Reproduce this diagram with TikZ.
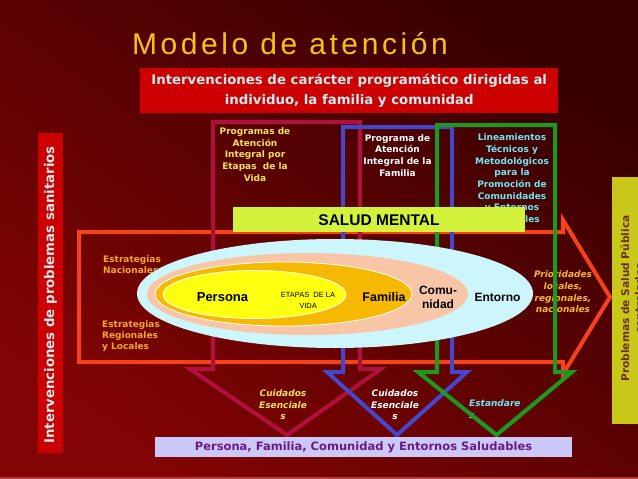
\documentclass[tikz,border=0pt]{standalone}
\usepackage{fontspec}
\setmainfont{Liberation Sans}
\newfontfamily\titlefont{Liberation Sans}[LetterSpace=12]
\newfontfamily\dvs{DejaVu Sans}[BoldFont={DejaVu Sans Bold},ItalicFont={DejaVu Sans Oblique},BoldItalicFont={DejaVu Sans Bold Oblique}]
\definecolor{bgtop}{HTML}{380000}
\definecolor{bgbot}{HTML}{820404}
\definecolor{titleyellow}{HTML}{F5C21C}
\definecolor{boxred}{HTML}{CC0000}
\definecolor{paletext}{HTML}{C6ECF0}
\definecolor{olivebox}{HTML}{C9C71A}
\definecolor{olivetext}{HTML}{6A3414}
\definecolor{arroworange}{HTML}{F5421A}
\definecolor{crimsonline}{HTML}{B0103C}
\definecolor{blueline}{HTML}{4646CC}
\definecolor{greenline}{HTML}{1C9A1C}
\definecolor{limebox}{HTML}{D2F23C}
\definecolor{ecyan}{HTML}{CCF6FB}
\definecolor{epeach}{HTML}{F8C6A6}
\definecolor{eorange}{HTML}{F7B800}
\definecolor{eyellow}{HTML}{FFFF10}
\definecolor{lightyellow}{HTML}{F2E25A}
\definecolor{cyantext}{HTML}{6EE6F4}
\definecolor{orangetext}{HTML}{F2A62A}
\definecolor{orangeital}{HTML}{F5B82A}
\definecolor{lavender}{HTML}{CDC8FA}
\definecolor{purpletext}{HTML}{6A1A80}
\begin{document}
\begin{tikzpicture}[x=1pt,y=-1pt,
  shapeline/.style={line width=4pt,line join=miter,miter limit=20},
  smalltxt/.style={font=\dvs\bfseries\fontsize{9}{11.7}\selectfont,align=center,inner sep=0pt,anchor=north},
  italtxt/.style={font=\dvs\bfseries\itshape\fontsize{9}{11.7}\selectfont,align=center,inner sep=0pt,anchor=north},
  sidetxt/.style={font=\dvs\bfseries\fontsize{9}{11}\selectfont,align=left,inner sep=0pt,anchor=north west,text=orangetext},
  elabel/.style={font=\bfseries\fontsize{13}{14.5}\selectfont,inner sep=0pt,align=center,text=black}
]
\useasboundingbox (0,0) rectangle (638,479);
\shade[top color=bgtop,bottom color=bgbot,shading angle=-35] (0,0) rectangle (638,479);
\draw[draw={rgb,255:red,176;green,64;blue,64},line width=1.2pt] (0,478) -- (638,478);

% title
\node[font=\titlefont\fontsize{30}{32}\selectfont,text=titleyellow,inner sep=0pt,anchor=base] (title) at (290,54) {Modelo de atención};

% top red box
\node[fill=boxred,minimum width=418pt,minimum height=45pt,inner sep=0pt,anchor=north west] (topbox) at (140,68) {};
\node[font=\dvs\bfseries\fontsize{13.3}{20}\selectfont,text=paletext,align=center,inner sep=0pt] (toptext) at (topbox.center) {Intervenciones de carácter programático dirigidas al\\individuo, la familia y comunidad};

% left vertical box
\node[fill=boxred,minimum width=25pt,minimum height=320pt,inner sep=0pt,anchor=north west] (leftbox) at (38,133) {};
\node[font=\dvs\bfseries\fontsize{13.3}{15}\selectfont,text=paletext,rotate=90,inner sep=0pt] (lefttext) at (50.5,295) {Intervenciones de problemas sanitarios};

% right vertical box
\node[fill=olivebox,minimum width=40pt,minimum height=247pt,inner sep=0pt,anchor=north west] (rightbox) at (612,177) {};
\node[font=\dvs\bfseries\fontsize{10.6}{14}\selectfont,text=olivetext,rotate=90,align=center,inner sep=0pt] (righttext) at (632,298.5) {Problemas de Salud Pública\\controlados};

% big orange arrow
\draw[shapeline,draw=arroworange] (79,232) -- (563,232) -- (563,220) -- (610,297) -- (563,374) -- (563,362) -- (79,362) -- cycle;

% texts under the lines
\node[smalltxt,text=lightyellow] (crimsontext) at (255,127.4) {Programas de\\Atención\\Integral por\\Etapas\ \ de la\\Vida};
\node[smalltxt,text=white] (bluetext) at (397.5,134) {Programa de\\Atención\\Integral de la\\Familia};
\node[smalltxt,text=cyantext] (greentext) at (512,133.7) {Lineamientos\\Técnicos y\\Metodológicos\\para la\\Promoción de\\Comunidades\\y Entornos\\Saludables};
\node[sidetxt] (nacionales) at (103,255.7) {Estrategias\\Nacionales};
\node[sidetxt] (regionales) at (102,320.7) {Estrategias\\Regionales\\y Locales};
\node[italtxt,text=orangeital] (prioridades) at (563,270.7) {Prioridades\\locales,\\regionales,\\nacionales};
\node[italtxt,text=lightyellow] (cuidados1) at (283,389.4) {Cuidados\\Esenciale\\s};
\node[italtxt,text=white] (cuidados2) at (395,389.4) {Cuidados\\Esenciale\\s};
\node[italtxt,text=cyantext,align=left,anchor=north west] (estandares) at (469,399.4) {Estandare\\s};

% U-shaped arrows
\draw[shapeline,draw=crimsonline] (213,122) -- (213,369) -- (190,369) -- (287,435) -- (381,369) -- (360,369) -- (360,122) -- cycle;
\draw[shapeline,draw=blueline] (343,127) -- (343,372) -- (327,372) -- (397,435) -- (467,372) -- (452,372) -- (452,127) -- cycle;
\draw[shapeline,draw=greenline] (437,125) -- (437,372) -- (418,372) -- (496.5,435) -- (572,372) -- (555,372) -- (555,125) -- cycle;

% ellipses
\fill[ecyan] (335,293.5) ellipse [x radius=198,y radius=54.5];
\fill[epeach] (307.5,294) ellipse [x radius=160.5,y radius=41];
\filldraw[fill=eorange,draw=white,line width=0.8pt] (283.5,294) ellipse [x radius=128.5,y radius=32];
\filldraw[fill=eyellow,draw=white,line width=0.8pt] (254.5,294.5) ellipse [x radius=91.5,y radius=24];

\node[elabel] (persona) at (222.5,297) {Persona};
\node[font=\fontsize{7.5}{11}\selectfont,align=center,inner sep=0pt] (etapas) at (308,300.5) {ETAPAS\ \ DE LA\\VIDA};
\node[elabel,font=\bfseries\fontsize{12.5}{14.5}\selectfont] (familia) at (384,297) {Familia};
\node[elabel,font=\bfseries\fontsize{12}{14.5}\selectfont] (comunidad) at (438,297.5) {Comu-\\nidad};
\node[elabel,font=\bfseries\fontsize{12}{14.5}\selectfont] (entorno) at (497.5,297) {Entorno};

% salud mental
\node[fill=limebox,minimum width=292pt,minimum height=25pt,inner sep=0pt,anchor=north west] (saludbox) at (233,207) {};
\node[font=\bfseries\fontsize{15.5}{17}\selectfont,inner sep=0pt] (saludtext) at (379,220) {SALUD MENTAL};

% bottom box
\node[fill=lavender,minimum width=417pt,minimum height=20pt,inner sep=0pt,anchor=north west] (bottombox) at (155,437) {};
\node[font=\dvs\bfseries\fontsize{11.5}{13}\selectfont,text=purpletext,inner sep=0pt] (bottomtext) at (363.5,447) {Persona, Familia, Comunidad y Entornos Saludables};
\end{tikzpicture}
\end{document}
